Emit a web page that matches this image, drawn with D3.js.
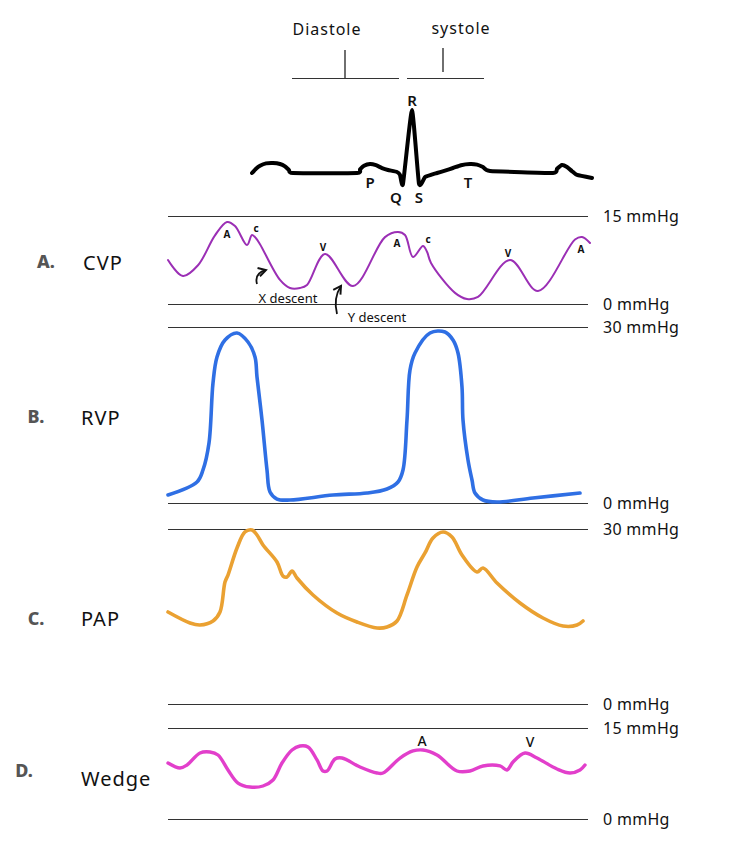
<!DOCTYPE html>
<html><head><meta charset="utf-8">
<script src="https://cdn.jsdelivr.net/npm/d3@7"></script>
<style>
html,body{margin:0;padding:0;background:#fff;}
svg{display:block;font-family:"Noto Sans",sans-serif;}
</style></head>
<body>
<svg id="chart" width="750" height="843"></svg>
<script>
// ---------------- DATA ----------------
// time in ms, shared by every trace
const ecgTime = [336,352,368,392,420,448,468,484,500,756,768,784,808,832,856,880,916,928,940,976,1004,1028,1052,1076,1108,1140,1172,1208,1236,1260,1288,1540,1556,1576,1596,1616,1636,1696];
const ecgMv   = [0,0.07,0.12,0.16,0.167,0.15,0.11,0.05,0,0,0.06,0.12,0.15,0.13,0.083,0.05,0.017,-0.033,-0.183,1.05,-0.183,-0.067,-0.03,0,0.04,0.083,0.13,0.15,0.14,0.1,0.033,0,0.07,0.133,0.1,0.03,-0.033,-0.083];
const ecgLabels = ["R","P","Q","S","T"];
const ecgLabelTime = [976,808,912,1004,1200];
const ecgLabelMv = [1.217,-0.15,-0.4,-0.4,-0.15];

const phaseLabels = ["Diastole","systole"];
const phaseStart = [496,956];
const phaseEnd = [924,1264];
const phaseTick = [708,1100];

const cvpTime = [0,60,120,188,236,268,316,336,352,368,448,488,528,556,628,740,868,920,948,980,1020,1036,1052,1148,1196,1240,1368,1480,1628,1656,1688];
const cvpMmHg = [7.5,4.77,6.6,11.7,13.98,13.3,10.06,11.76,11.2,10.2,4.1,2.73,2.73,3.24,8.52,3.07,11.4,12.27,11.76,8.01,9.89,8.9,7.0,1.9,0.85,1.2,7.5,2.22,11.0,11.42,10.4];
const cvpWaveLabels = ["A","c","V","A","c","V","A"];
const cvpWaveTime = [236,352,620,916,1040,1360,1652];
const cvpWaveMmHg = [11.93,12.95,9.72,10.4,11.08,8.69,9.38];

const rvpTime = [0,116,140,164,180,196,228,276,320,348,356,376,396,408,436,488,660,796,876,920,940,956,968,988,1048,1108,1140,1160,1176,1180,1200,1216,1228,1260,1316,1460,1648];
const rvpMmHg = [1.36,3.58,5.63,10.23,20.45,24.89,27.78,28.98,27.44,24.89,21.48,14.15,5.63,1.88,0.68,0.51,1.36,1.70,2.39,3.58,5.63,14.15,22.67,25.57,28.98,29.15,27.78,25.57,19.77,14.15,7.33,3.92,1.70,0.51,0.17,0.85,1.70];

const papTime = [0,88,128,180,208,228,240,276,308,336,356,380,436,460,476,496,516,580,676,756,836,876,916,956,996,1028,1060,1100,1136,1176,1236,1260,1316,1408,1500,1580,1636,1660];
const papMmHg = [15.77,13.89,13.54,14.23,15.77,20.91,22.11,26.74,29.49,29.83,28.97,27.26,24.34,21.94,21.77,22.8,21.6,18.69,15.6,14.06,13.03,13.2,14.23,18.69,23.49,25.89,28.46,29.49,28.63,25.54,22.63,23.31,20.74,17.31,14.74,13.37,13.54,14.23];

const wedgeTime = [0,48,76,128,168,200,240,280,328,380,420,456,496,528,560,596,620,636,668,696,768,836,860,928,980,1020,1076,1156,1208,1260,1328,1356,1380,1428,1476,1556,1608,1648,1668];
const wedgeMmHg = [9.23,8.41,8.9,10.88,11.04,10.55,8.08,5.93,5.27,5.44,6.43,9.23,11.37,12.03,11.87,9.73,7.91,7.91,9.89,10.05,8.57,7.58,7.58,10.05,11.21,11.37,10.55,7.91,7.91,8.74,8.74,8.08,9.4,10.88,10.05,8.24,7.58,8.08,8.9];
const wedgeWaveLabels = ["A","V"];
const wedgeWaveTime = [1016,1448];
const wedgeWaveMmHg = [13.02,12.85];

const panelNames = ["CVP","RVP","PAP","Wedge"];
const panelLetters = ["A.","B.","C.","D."];
const panelMax = [15,30,30,15];
const tickUnit = "mmHg";

// ---------------- LAYOUT ----------------
const svg = d3.select("#chart");
const x = d3.scaleLinear().domain([0,1680]).range([168,588]);
const ecgY = d3.scaleLinear().domain([0,1]).range([173,113]);

const panelTop = [216,327,529,728];
const panelBottom = [304,503,704,819];
const colors = ["#9b2fb5","#2f6fe4","#eaa132","#e23fcb"];
const widths = [2,3.6,3.6,3.4];
const series = [[cvpTime,cvpMmHg],[rvpTime,rvpMmHg],[papTime,papMmHg],[wedgeTime,wedgeMmHg]];
const yScales = panelNames.map((n,i)=>d3.scaleLinear().domain([0,panelMax[i]]).range([panelBottom[i],panelTop[i]]));

const curve = d3.curveCatmullRom.alpha(0.5);

// phase brackets
phaseLabels.forEach((lab,i)=>{
  const g = svg.append("g");
  g.append("line").attr("x1",x(phaseStart[i])).attr("x2",x(phaseEnd[i]))
    .attr("y1",78.5).attr("y2",78.5).attr("stroke","#333").attr("stroke-width",1.2);
  g.append("line").attr("x1",x(phaseTick[i])).attr("x2",x(phaseTick[i]))
    .attr("y1",i===0?50:48).attr("y2",i===0?78:72).attr("stroke","#333").attr("stroke-width",1.4);
  g.append("text").attr("x",x(phaseTick[i])+(i===0?-18:18)).attr("y",i===0?35:34)
    .attr("text-anchor","middle").attr("font-size",16).attr("letter-spacing",1).attr("fill","#111").text(lab);
});

// ECG
svg.append("path").datum(d3.zip(ecgTime,ecgMv))
  .attr("d",d3.line().x(d=>x(d[0])).y(d=>ecgY(d[1])).curve(d3.curveCardinal.tension(0.55)))
  .attr("fill","none").attr("stroke","#000").attr("stroke-width",4).attr("stroke-linejoin","round").attr("stroke-linecap","round");
ecgLabels.forEach((l,i)=>{
  svg.append("text").attr("x",x(ecgLabelTime[i])).attr("y",ecgY(ecgLabelMv[i]))
    .attr("text-anchor","middle").attr("dominant-baseline","central")
    .attr("font-size",15).attr("font-weight",600).attr("fill","#111").text(l);
});

// panels
panelNames.forEach((name,i)=>{
  const y = yScales[i];
  const axis = d3.axisRight(y).tickValues([0,panelMax[i]])
    .tickSizeInner(-(x.range()[1]-x.range()[0])).tickSizeOuter(0).tickPadding(15)
    .tickFormat(d=>d+" "+tickUnit);
  const ag = svg.append("g").attr("transform",`translate(${x.range()[1]},0)`).call(axis);
  ag.select(".domain").remove();
  ag.selectAll(".tick line").attr("stroke","#333").attr("stroke-width",1.2);
  ag.selectAll(".tick text").attr("font-size",16).attr("font-family","'Noto Sans',sans-serif")
    .attr("fill","#111").attr("letter-spacing",0.3);

  const [t,v] = series[i];
  svg.append("path").datum(d3.zip(t,v))
    .attr("d",d3.line().x(d=>x(d[0])).y(d=>y(d[1])).curve(curve))
    .attr("fill","none").attr("stroke",colors[i]).attr("stroke-width",widths[i])
    .attr("stroke-linejoin","round").attr("stroke-linecap","round");

  const mid = (panelTop[i]+panelBottom[i])/2;
  svg.append("text").attr("x",i===0?46:(i===3?24:36)).attr("y",mid+1-(i===3?5:0)).attr("text-anchor","middle")
    .attr("dominant-baseline","central").attr("font-size",18).attr("font-weight",800)
    .attr("fill","#555").text(panelLetters[i]);
  svg.append("text").attr("x",i===0?83:81).attr("y",mid+2+(i===3?3:0))
    .attr("dominant-baseline","central").attr("font-size",20).attr("letter-spacing",1)
    .attr("fill","#111").text(name);
});

// CVP wave labels
cvpWaveLabels.forEach((l,i)=>{
  svg.append("text").attr("x",x(cvpWaveTime[i])).attr("y",yScales[0](cvpWaveMmHg[i]))
    .attr("text-anchor","middle").attr("dominant-baseline","central")
    .attr("font-size",10).attr("font-weight",700).attr("fill","#111").text(l);
});
// Wedge wave labels
wedgeWaveLabels.forEach((l,i)=>{
  svg.append("text").attr("x",x(wedgeWaveTime[i])).attr("y",yScales[3](wedgeWaveMmHg[i]))
    .attr("text-anchor","middle").attr("dominant-baseline","central")
    .attr("font-size",14).attr("font-weight",500).attr("fill","#111").text(l);
});

// descent annotations
const yc = yScales[0];
svg.append("defs").append("marker").attr("id","arr").attr("viewBox","0 0 10 10")
  .attr("refX",8).attr("refY",5).attr("markerWidth",6).attr("markerHeight",6).attr("orient","auto")
  .append("path").attr("d","M1,1 L8,5 L1,9").attr("fill","none").attr("stroke","#111").attr("stroke-width",1.8);
function arrow(t0,v0,tc,vc,t1,v1){
  const p = d3.path();
  p.moveTo(x(t0),yc(v0)); p.quadraticCurveTo(x(tc),yc(vc),x(t1),yc(v1));
  svg.append("path").attr("d",p.toString()).attr("fill","none").attr("stroke","#111")
    .attr("stroke-width",1.8).attr("marker-end","url(#arr)");
}
arrow(356,3.41,344,5.2,392,5.8);
arrow(676,-1.7,660,1.0,692,3.07);
svg.append("text").attr("x",x(480)).attr("y",yc(1.0)).attr("text-anchor","middle")
  .attr("dominant-baseline","central").attr("font-size",13).attr("fill","#111").text("X descent");
svg.append("text").attr("x",x(836)).attr("y",yc(-2.2)).attr("text-anchor","middle")
  .attr("dominant-baseline","central").attr("font-size",13).attr("fill","#111").text("Y descent");
</script>
</body></html>
